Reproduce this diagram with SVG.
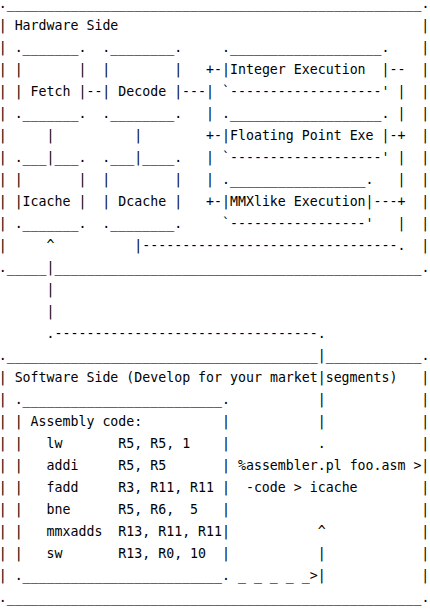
<svg xmlns="http://www.w3.org/2000/svg" width="430" height="609" viewBox="0 0 430 609">
<style>
text { font-family: "DejaVu Sans Mono", "Liberation Mono", monospace; font-size: 13.25px; fill: #000; white-space: pre; }
</style>
<rect width="430" height="609" fill="#fff"/>
<g transform="translate(-1.3 8)">
<g id="hardware-side">
<text x="0" y="0">.____________________________________________________.</text>
<text x="15.95" y="22">Hardware Side</text>
<text><tspan x="0" y="22">|</tspan><tspan x="0" y="44">|</tspan><tspan x="0" y="66">|</tspan><tspan x="0" y="88">|</tspan><tspan x="0" y="110">|</tspan><tspan x="0" y="132">|</tspan><tspan x="0" y="154">|</tspan><tspan x="0" y="176">|</tspan><tspan x="0" y="198">|</tspan><tspan x="0" y="220">|</tspan><tspan x="0" y="242">|</tspan></text>
<text><tspan x="422.675" y="22">|</tspan><tspan x="422.675" y="44">|</tspan><tspan x="422.675" y="66">|</tspan><tspan x="422.675" y="88">|</tspan><tspan x="422.675" y="110">|</tspan><tspan x="422.675" y="132">|</tspan><tspan x="422.675" y="154">|</tspan><tspan x="422.675" y="176">|</tspan><tspan x="422.675" y="198">|</tspan><tspan x="422.675" y="220">|</tspan><tspan x="422.675" y="242">|</tspan></text>
<text x="0" y="264">._____</text>
<text x="55.825" y="264">______________________________________________.</text>
</g>
<g id="fetch">
<text x="15.95" y="44">._______.</text>
<text x="15.95" y="66">|       |</text>
<text x="15.95" y="88">| Fetch |</text>
<text x="15.95" y="110">._______.</text>
</g>
<g id="decode">
<text x="103.675" y="44">.________.</text>
<text x="103.675" y="66">|        |</text>
<text x="103.675" y="88">| Decode |</text>
<text x="103.675" y="110">.________.</text>
</g>
<g id="icache">
<text x="15.95" y="154">.___</text>
<text x="55.825" y="154">___.</text>
<text x="15.95" y="176">|       |</text>
<text x="15.95" y="198">|Icache |</text>
<text x="15.95" y="220">._______.</text>
</g>
<g id="dcache">
<text x="103.675" y="154">.___</text>
<text x="143.55" y="154">____.</text>
<text x="103.675" y="176">|        |</text>
<text x="103.675" y="198">| Dcache |</text>
<text x="103.675" y="220">.________.</text>
</g>
<g id="integer-execution">
<text x="223.3" y="44">.___________________.</text>
<text x="223.3" y="66">|Integer Execution  |</text>
<text x="223.3" y="88">`-------------------'</text>
</g>
<g id="floating-point-exe">
<text x="223.3" y="110">.___________________.</text>
<text x="223.3" y="132">|Floating Point Exe |</text>
<text x="223.3" y="154">`-------------------'</text>
</g>
<g id="mmxlike-execution">
<text x="223.3" y="176">._________________.</text>
<text x="223.3" y="198">|MMXlike Execution|</text>
<text x="223.3" y="220">`-----------------'</text>
</g>
<g id="software-side">
<text x="0" y="352">._______________________________________</text>
<text x="326.975" y="352">____________.</text>
<text x="15.95" y="374">Software Side (Develop for your market</text>
<text x="326.975" y="374">segments)</text>
<text><tspan x="0" y="374">|</tspan><tspan x="0" y="396">|</tspan><tspan x="0" y="418">|</tspan><tspan x="0" y="440">|</tspan><tspan x="0" y="462">|</tspan><tspan x="0" y="484">|</tspan><tspan x="0" y="506">|</tspan><tspan x="0" y="528">|</tspan><tspan x="0" y="550">|</tspan><tspan x="0" y="572">|</tspan></text>
<text><tspan x="422.675" y="374">|</tspan><tspan x="422.675" y="396">|</tspan><tspan x="422.675" y="418">|</tspan><tspan x="422.675" y="440">|</tspan><tspan x="422.675" y="462">|</tspan><tspan x="422.675" y="484">|</tspan><tspan x="422.675" y="506">|</tspan><tspan x="422.675" y="528">|</tspan><tspan x="422.675" y="550">|</tspan><tspan x="422.675" y="572">|</tspan></text>
<text x="0" y="594">.____________________________________________________.</text>
</g>
<g id="assembly-code">
<text x="15.95" y="396">._________________________.</text>
<text x="15.95" y="418">|</text><text x="31.9" y="418">Assembly code:</text><text x="223.3" y="418">|</text>
<text><tspan x="15.95" y="440">|</tspan><tspan x="15.95" y="462">|</tspan><tspan x="15.95" y="484">|</tspan><tspan x="15.95" y="506">|</tspan><tspan x="15.95" y="528">|</tspan><tspan x="15.95" y="550">|</tspan></text>
<text><tspan x="223.3" y="440">|</tspan><tspan x="223.3" y="462">|</tspan><tspan x="223.3" y="484">|</tspan><tspan x="223.3" y="506">|</tspan><tspan x="223.3" y="528">|</tspan><tspan x="223.3" y="550">|</tspan></text>
<text x="47.85" y="440">lw</text><text x="119.625" y="440">R5, R5, 1</text>
<text x="47.85" y="462">addi</text><text x="119.625" y="462">R5, R5</text>
<text x="47.85" y="484">fadd</text><text x="119.625" y="484">R3, R11, R11</text>
<text x="47.85" y="506">bne</text><text x="119.625" y="506">R5, R6,  5</text>
<text x="47.85" y="528">mmxadds</text><text x="119.625" y="528">R13, R11, R11</text>
<text x="47.85" y="550">sw</text><text x="119.625" y="550">R13, R0, 10</text>
<text x="15.95" y="572">._________________________.</text>
</g>
<g id="assembler-command">
<text x="239.25" y="462">%assembler.pl foo.asm &gt;</text>
<text x="247.225" y="484">-code &gt; icache</text>
</g>
<g id="connectors">
<text x="207.35" y="66">+-</text><text x="390.775" y="66">--</text>
<text x="87.725" y="88">--</text><text x="183.425" y="88">---|</text><text x="398.75" y="88">|</text>
<text x="207.35" y="110">|</text><text x="398.75" y="110">|</text>
<text x="47.85" y="132">|</text><text x="135.575" y="132">|</text><text x="207.35" y="132">+-</text><text x="390.775" y="132">-+</text>
<text x="47.85" y="154">|</text><text x="135.575" y="154">|</text><text x="207.35" y="154">|</text><text x="398.75" y="154">|</text>
<text x="207.35" y="176">|</text><text x="398.75" y="176">|</text>
<text x="207.35" y="198">+-</text><text x="374.825" y="198">---+</text>
<text x="398.75" y="220">|</text>
<text x="47.85" y="242">^</text><text x="135.575" y="242">|--------------------------------.</text>
<text x="47.85" y="264">|</text>
<text x="47.85" y="286">|</text>
<text x="47.85" y="308">|</text>
<text x="47.85" y="330">.---------------------------------.</text>
<text x="319" y="352">|</text>
<text x="319" y="374">|</text>
<text x="319" y="396">|</text>
<text x="319" y="418">|</text>
<text x="319" y="440">.</text>
<text x="319" y="528">^</text>
<text x="319" y="550">|</text>
<text x="239.25" y="572">_ _ _ _ _&gt;|</text>
</g>
</g>
</svg>
